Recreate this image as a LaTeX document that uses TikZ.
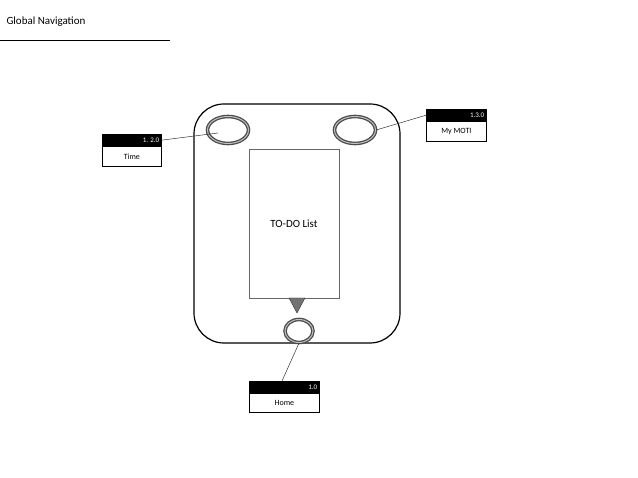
\documentclass[tikz,border=0pt]{standalone}
\usepackage{fontspec}
\setmainfont{Carlito}
\usetikzlibrary{shapes.geometric}
\begin{document}
\begin{tikzpicture}[x=1pt,y=-1pt,
  btn/.style={draw=black!70,line width=1.3pt,fill=white,double=black!25,double distance=1pt},
  bar/.style={fill=black,draw=black},
  lbl/.style={draw=black,fill=white,line width=0.8pt},
  conn/.style={draw=black!80,line width=0.5pt}]
\useasboundingbox (0,0) rectangle (638,478);
\node[anchor=west,font=\fontsize{11}{13}\selectfont] (title) at (3,22) {Global Navigation};
\draw[line width=0.5pt] (0,40) coordinate (ta) -- (170,40) coordinate (tb);
\draw[line width=1.2pt,rounded corners=30pt] (194,104) rectangle (400,343);
\node[draw=black!60,line width=0.8pt,minimum width=90pt,minimum height=149pt,font=\fontsize{11}{13}\selectfont] (todo) at (294,223.5) {TO-DO List};
\fill[black!55,draw=black!80] (289,298) -- (305,298) -- (297,313) -- cycle;
\node[btn,ellipse,minimum width=41pt,minimum height=27pt,inner sep=0] (b1) at (228,130) {};
\node[btn,ellipse,minimum width=41pt,minimum height=27pt,inner sep=0] (b2) at (355,130) {};
\node[btn,ellipse,minimum width=28pt,minimum height=23pt,inner sep=0] (b3) at (299,331) {};
\coordinate (p1) at (218,133);
\coordinate (p3) at (282,381);
% Time
\node[bar,minimum width=59pt,minimum height=12pt,inner sep=0,anchor=north west] (t1) at (102,134) {};
\node[anchor=east,text=white,font=\fontsize{7}{8}\selectfont,inner sep=2pt] at (t1.east) {1. 2.0};
\node[lbl,minimum width=59pt,minimum height=20pt,inner sep=0,anchor=north west,font=\fontsize{8}{10}\selectfont] (t2) at (102,146) {Time};
% MOTI
\node[bar,minimum width=60pt,minimum height=12pt,inner sep=0,anchor=north west] (m1) at (426,109) {};
\node[anchor=east,text=white,font=\fontsize{7}{8}\selectfont,inner sep=2pt] at (m1.east) {1.3.0};
\node[lbl,minimum width=60pt,minimum height=20pt,inner sep=0,anchor=north west,font=\fontsize{8}{10}\selectfont] (m2) at (426,121) {My MOTI};
% Home
\node[bar,minimum width=70pt,minimum height=12pt,inner sep=0,anchor=north west] (h1) at (249,381) {};
\node[anchor=east,text=white,font=\fontsize{7}{8}\selectfont,inner sep=2pt] at (h1.east) {1.0};
\node[lbl,minimum width=70pt,minimum height=19pt,inner sep=0,anchor=north west,font=\fontsize{8}{10}\selectfont] (h2) at (249,393) {Home};
\draw[conn] (t1.east) -- (p1);
\draw[conn] (m1.west) -- (b2.east);
\draw[conn] (b3.south) -- (p3);
\end{tikzpicture}
\end{document}
